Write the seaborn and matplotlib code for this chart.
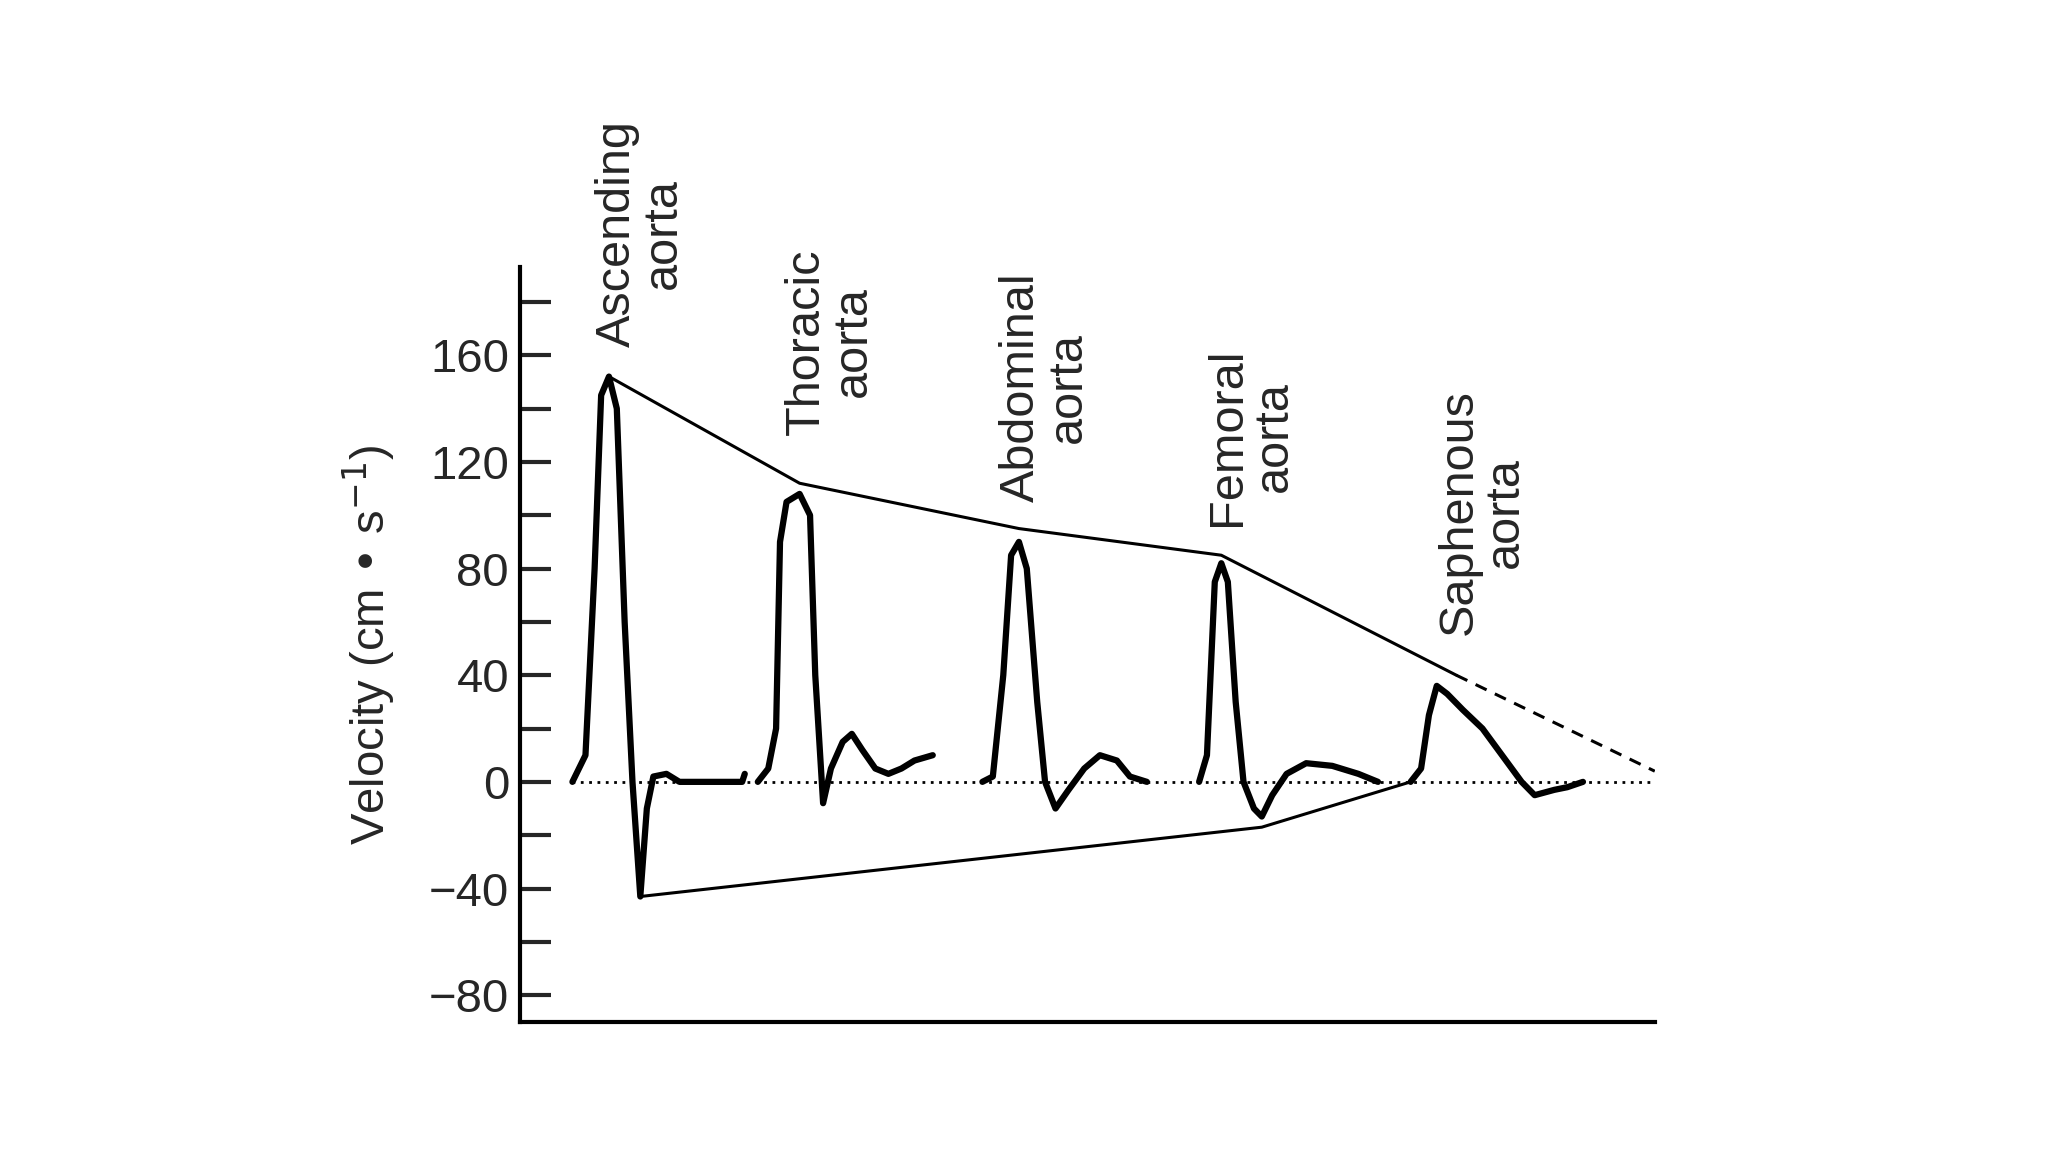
import numpy as np
import matplotlib.pyplot as plt
import seaborn as sns

sns.set_style("white")
plt.rcParams["font.family"] = ["Liberation Sans", "DejaVu Sans"]

# waveforms: x in screen px (reference scale), velocity in cm/s
asc_x = [438, 448, 455, 460, 466, 472, 478, 484, 490, 495, 500, 510, 520, 568, 570]
asc_v = [0, 10, 80, 145, 152, 140, 60, 0, -43, -10, 2, 3, 0, 0, 3]
tho_x = [580, 588, 594, 597, 602, 612, 620, 624, 630, 636, 645, 652, 660, 670, 680, 690, 700, 714]
tho_v = [0, 5, 20, 90, 105, 108, 100, 40, -8, 5, 15, 18, 12, 5, 3, 5, 8, 10]
abd_x = [752, 760, 768, 774, 780, 786, 794, 800, 808, 818, 830, 842, 855, 865, 878]
abd_v = [0, 2, 40, 85, 90, 80, 30, 0, -10, -3, 5, 10, 8, 2, 0]
fem_x = [918, 924, 930, 935, 940, 946, 952, 960, 966, 974, 985, 1000, 1020, 1040, 1055]
fem_v = [0, 10, 75, 82, 75, 30, 0, -10, -13, -5, 3, 7, 6, 3, 0]
sap_x = [1080, 1088, 1094, 1100, 1108, 1120, 1135, 1150, 1165, 1175, 1190, 1200, 1212]
sap_v = [0, 5, 25, 36, 33, 27, 20, 10, 0, -5, -3, -2, 0]

upper_x = [466, 612, 780, 935, 1115]
upper_v = [152, 112, 95, 85, 40]
upper_dash_x = [1115, 1267]
upper_dash_v = [40, 4]
lower_x = [490, 966, 1080]
lower_v = [-43, -17, 0]

labels = ["Ascending\naorta", "Thoracic\naorta", "Abdominal\naorta", "Femoral\naorta", "Saphenous\naorta"]
label_x = [490, 635, 800, 958, 1135]
label_v = [163, 130, 105, 96, 55]

x0, x1 = 398, 1267


def tx(px):
    return (np.asarray(px, dtype=float) - x0) / (x1 - x0) * 100


fig = plt.figure(figsize=(20.48, 11.52), dpi=100)
ax = fig.add_axes([0.254, 0.113, 0.554, 0.655])

ax.plot(tx([438, 1267]), [0, 0], color="black", lw=2, ls=(0, (1, 2)))
for xs, vs in [(asc_x, asc_v), (tho_x, tho_v), (abd_x, abd_v), (fem_x, fem_v), (sap_x, sap_v)]:
    sns.lineplot(x=tx(xs), y=vs, ax=ax, color="black", lw=4.5, sort=False)
ax.plot(tx(upper_x), upper_v, color="black", lw=2.2)
ax.plot(tx(upper_dash_x), upper_dash_v, color="black", lw=2.2, ls=(0, (4, 3)))
ax.plot(tx(lower_x), lower_v, color="black", lw=2.2)

for lab, lx, lv in zip(labels, label_x, label_v):
    ax.text(tx(lx), lv, lab, rotation=90, ha="center", va="bottom",
            fontsize=35, clip_on=False, linespacing=1.05)

ax.set_xlim(0, 100)
ax.set_ylim(-90, 193)
ax.set_yticks(np.arange(-80, 181, 20))
ax.set_yticklabels([str(v).replace("-", "\u2212") if v % 40 == 0 else "" for v in range(-80, 181, 20)])
ax.set_xticks([])
ax.tick_params(axis="y", direction="in", length=22, width=3, labelsize=34, left=True, pad=8)
ax.set_ylabel("Velocity (cm • s$^{-1}$)", fontsize=34, labelpad=22)
for s in ["top", "right"]:
    ax.spines[s].set_visible(False)
for s in ["left", "bottom"]:
    ax.spines[s].set_linewidth(3)
    ax.spines[s].set_color("black")

fig.savefig("out.png", dpi=100, facecolor="white")
